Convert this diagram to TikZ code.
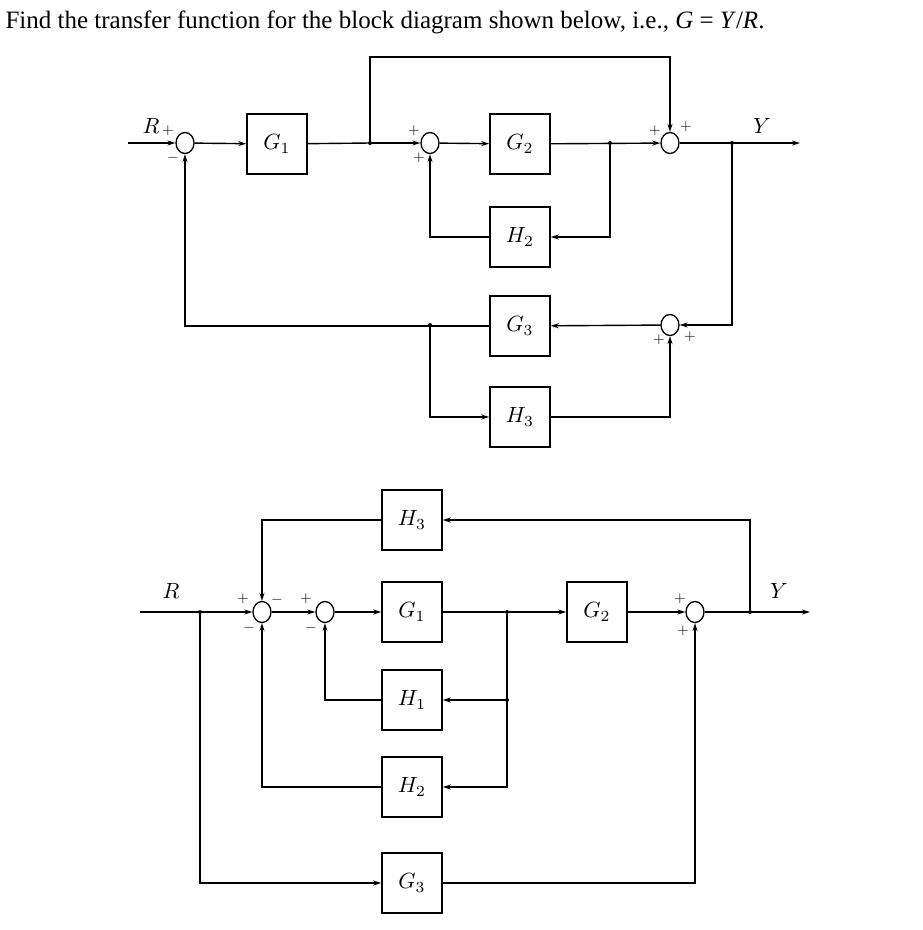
\documentclass[tikz,border=0pt]{standalone}
\usepackage{graphicx}
\usepackage{fontspec}
\setmainfont{Liberation Serif}
\usetikzlibrary{arrows.meta,shapes.geometric}
\newcommand{\BL}[1]{\scalebox{2.2}{$#1$}}
\newcommand{\SG}[1]{\scalebox{1.5}{$#1$}}
\begin{document}
\begin{tikzpicture}[x=1pt,y=-1pt,
  blk/.style={draw,line width=1.5pt,minimum width=60pt,minimum height=60pt,inner sep=0pt},
  sum/.style={draw,ellipse,line width=1.3pt,minimum width=18pt,minimum height=21pt,inner sep=0pt},
  sg/.style={inner sep=1pt},
  lab/.style={},
  ln/.style={line width=1.4pt},
  ar/.style={ln,-{Stealth[length=8pt,width=5pt]}},
  dot/.style={circle,fill,inner sep=0pt,minimum size=4pt}]
\useasboundingbox (0,0) rectangle (923,930);
\node[anchor=west,font=\fontsize{25}{30}\selectfont] (title) at (2,22) {Find the transfer function for the block diagram shown below, i.e., \textit{G} = \textit{Y}/\textit{R}.};
% ---------- top diagram ----------
\coordinate (rin) at (128,143);
\node[sum] (s1) at (185,143) {};
\node[blk] (g1) at (277,144) {\BL{G_1}};
\node[dot] (b1) at (370,143) {};
\node[sum] (s2) at (430,143) {};
\node[blk] (g2) at (520,144) {\BL{G_2}};
\node[dot] (b2) at (610,143) {};
\node[blk] (h2) at (520,237) {\BL{H_2}};
\node[sum] (s3) at (670,143) {};
\node[dot] (b3) at (732,143) {};
\coordinate (yout) at (800,143);
\node[sum] (s4) at (670,325) {};
\node[blk] (g3) at (520,326) {\BL{G_3}};
\node[dot] (b4) at (430,325) {};
\node[blk] (h3) at (520,417) {\BL{H_3}};
\node[lab] (R1) at (151,126) {\BL{R}};
\node[lab] (Y1) at (762,126) {\BL{Y}};
\draw[ar] (rin) -- (s1);
\draw[ar] (s1) -- (g1);
\draw[ln] (g1) -- (b1);
\draw[ar] (b1) -- (s2);
\draw[ar] (b1) |- (670,57) -- (s3);
\draw[ar] (s2) -- (g2);
\draw[ar] (g2) -- (s3);
\draw[ar] (b2) |- (h2);
\draw[ar] (h2) -| (s2);
\draw[ar] (s3) -- (yout);
\draw[ar] (b3) |- (s4);
\draw[ar] (s4) -- (g3);
\draw[ar] (g3) -| (s1);
\draw[ar] (b4) |- (h3);
\draw[ar] (h3) -| (s4);
\node[sg] at (168,131) {\SG{+}};
\node[sg] at (173,158) {\SG{-}};
\node[sg] at (414,131) {\SG{+}};
\node[sg] at (419,158) {\SG{+}};
\node[sg] at (655,131) {\SG{+}};
\node[sg] at (686,127) {\SG{+}};
\node[sg] at (659,340) {\SG{+}};
\node[sg] at (690,337) {\SG{+}};
% ---------- bottom diagram ----------
\coordinate (rin2) at (140,612);
\node[dot] (c1) at (200,612) {};
\node[sum] (sa) at (262,612) {};
\node[sum] (sb) at (325,612) {};
\node[blk] (bg1) at (412,612) {\BL{G_1}};
\node[dot] (c2) at (507,612) {};
\node[blk] (bg2) at (597,612) {\BL{G_2}};
\node[sum] (sc) at (695,612) {};
\node[dot] (c3) at (750,612) {};
\coordinate (yout2) at (810,612);
\node[blk] (bh3) at (412,520) {\BL{H_3}};
\node[blk] (bh1) at (412,700) {\BL{H_1}};
\node[dot] (c4) at (507,700) {};
\node[blk] (bh2) at (412,787) {\BL{H_2}};
\node[blk] (bg3) at (412,883) {\BL{G_3}};
\node[lab] (R2) at (171,591) {\BL{R}};
\node[lab] (Y2) at (779,591) {\BL{Y}};
\draw[ar] (rin2) -- (sa);
\draw[ar] (sa) -- (sb);
\draw[ar] (sb) -- (bg1);
\draw[ln] (bg1) -- (c2);
\draw[ar] (c2) -- (bg2);
\draw[ar] (bg2) -- (sc);
\draw[ar] (sc) -- (yout2);
\draw[ar] (c3) |- (bh3);
\draw[ar] (bh3) -| (sa);
\draw[ar] (c4) -- (bh1);
\draw[ar] (c2) |- (bh2);
\draw[ar] (bh1) -| (sb);
\draw[ar] (bh2) -| (sa);
\draw[ar] (c1) |- (bg3);
\draw[ar] (bg3) -| (sc);
\node[sg] at (243,599) {\SG{+}};
\node[sg] at (277,600) {\SG{-}};
\node[sg] at (249,628) {\SG{-}};
\node[sg] at (306,599) {\SG{+}};
\node[sg] at (311,628) {\SG{-}};
\node[sg] at (680,599) {\SG{+}};
\node[sg] at (683,631) {\SG{+}};
\end{tikzpicture}
\end{document}
